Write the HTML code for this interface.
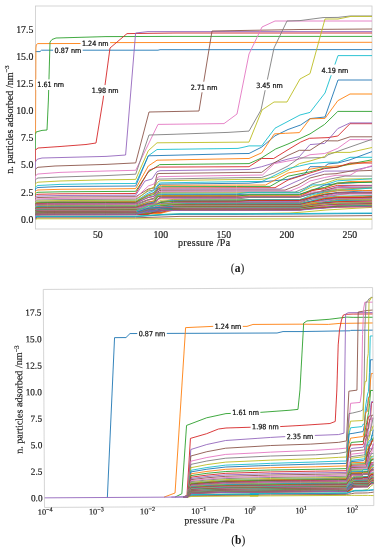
<!DOCTYPE html><html><head><meta charset="utf-8"><title>Adsorption isotherms</title><style>
html,body{margin:0;padding:0;background:#fff}svg{display:block}
.t{font-family:"Liberation Serif","DejaVu Serif",serif;font-size:9.8px;fill:#1a1a1a;stroke:#1a1a1a;stroke-width:0.18px}
.l{font-family:"DejaVu Sans Condensed","DejaVu Sans","Liberation Sans",sans-serif;font-stretch:condensed;font-size:7.15px;fill:#111;stroke:#111;stroke-width:0.22px}
.c{font-family:"Liberation Serif","DejaVu Serif",serif;font-size:11.5px;fill:#111}
polyline{fill:none;stroke-width:0.9;stroke-opacity:1.0;stroke-linejoin:miter;stroke-miterlimit:2}
</style></head><body>
<svg width="380" height="550" viewBox="0 0 380 550">
<rect width="380" height="550" fill="#fff"/>
<filter id="bl" x="-2%" y="-2%" width="104%" height="104%"><feGaussianBlur stdDeviation="0.38"/></filter>
<clipPath id="ca"><rect x="35.2" y="6.0" width="337.2" height="223.0"/></clipPath>
<g><rect x="35.4" y="6.0" width="336.6" height="223.0" fill="none" stroke="#cbcbcb" stroke-width="0.8"/></g>
<g filter="url(#bl)"><g><g clip-path="url(#ca)">
<polyline stroke="#bcbd22" points="35.5,216.8 35.5,216.8 36.6,216.7 36.0,216.6 38.0,216.3 135.7,216.3 161.0,214.6 180.0,213.9 237.0,213.8 290.0,213.0 304.0,212.0 326.0,210.0 350.0,208.6 372.0,207.4"/>
<polyline stroke="#8c564b" points="35.5,218.1 35.5,218.1 36.6,218.1 36.0,218.0 38.0,217.8 135.7,217.8 161.0,217.0 180.0,216.4 237.0,216.4 290.0,216.3 304.0,216.2 326.0,216.0 350.0,215.8 372.0,215.6"/>
<polyline stroke="#1f77b4" points="35.5,217.1 35.5,217.1 36.6,217.0 36.0,216.9 38.0,216.6 135.7,216.6 161.0,215.0 180.0,214.3 237.0,214.3 290.0,214.1 304.0,214.0 326.0,213.8 350.0,213.6 372.0,213.5"/>
<polyline stroke="#17becf" points="35.5,216.7 35.5,216.7 36.6,216.6 36.0,216.5 38.0,216.2 135.7,216.2 161.0,214.5 180.0,213.7 237.0,213.7 290.0,213.6 304.0,213.5 326.0,213.3 350.0,213.1 372.0,213.0"/>
<polyline stroke="#bcbd22" points="35.5,218.8 35.5,218.8 36.6,218.8 36.0,218.8 38.0,218.8 135.7,218.8 161.0,218.8 180.0,218.8 237.0,218.9 290.0,218.9 304.0,219.0 326.0,219.0 350.0,219.1 372.0,219.1"/>
<polyline stroke="#1f77b4" points="35.5,51.6 36.0,51.6 40.0,51.6 41.5,50.2 158.0,50.2 160.0,49.7 372.0,49.6"/>
<rect x="53.1" y="44.9" width="29.6" height="10.6" fill="#fff"/>
<polyline stroke="#ff7f0e" points="35.5,134.3 35.9,48.0 36.3,45.0 37.5,43.6 81.0,43.5 109.6,42.6 372.0,42.3"/>
<rect x="80.5" y="38.3" width="29.6" height="10.6" fill="#fff"/>
<polyline stroke="#2ca02c" points="35.5,149.0 35.5,134.3 36.0,132.0 42.0,130.4 47.0,130.0 48.4,100.0 49.5,60.0 50.0,42.0 52.0,39.5 56.0,38.0 106.0,36.6 176.0,36.4 372.0,36.4"/>
<rect x="35.9" y="79.4" width="29.6" height="10.6" fill="#fff"/>
<polyline stroke="#d62728" points="35.5,161.8 35.5,149.0 36.0,149.5 38.0,148.0 60.0,146.5 86.0,144.5 96.0,143.0 103.0,100.0 110.0,48.0 127.0,33.6 176.0,33.0 372.0,33.0"/>
<rect x="90.4" y="85.1" width="29.6" height="10.6" fill="#fff"/>
<polyline stroke="#9467bd" points="35.5,169.7 35.5,161.8 36.6,159.8 38.0,159.0 42.0,158.0 106.0,156.4 125.6,155.0 135.6,33.0 148.0,31.6 372.0,31.6"/>
<polyline stroke="#8c564b" points="35.5,176.1 35.5,169.7 36.6,168.0 38.0,167.3 55.0,166.0 106.0,164.4 135.7,162.9 149.0,112.0 199.0,111.0 212.0,31.0 300.0,29.5 372.0,29.0"/>
<rect x="189.3" y="81.7" width="29.6" height="10.6" fill="#fff"/>
<polyline stroke="#e377c2" points="35.5,179.9 35.5,176.1 36.6,174.6 38.0,174.0 60.0,172.4 106.0,171.0 135.7,170.3 158.0,124.4 224.0,123.6 237.0,114.0 249.0,54.0 262.0,27.0 275.0,21.0 372.0,21.0"/>
<polyline stroke="#7f7f7f" points="35.5,183.9 35.5,179.9 36.6,178.6 38.0,178.0 60.0,177.0 106.0,175.6 135.7,174.2 149.0,135.0 170.0,134.4 228.0,132.4 249.0,131.1 261.0,110.0 274.0,48.0 287.0,21.0 300.0,20.6 323.0,17.6 338.0,17.4 350.0,16.0 372.0,16.0"/>
<rect x="254.7" y="79.6" width="29.6" height="10.6" fill="#fff"/>
<polyline stroke="#bcbd22" points="35.5,187.1 35.5,183.9 36.6,182.7 38.0,182.2 60.0,181.0 106.0,179.8 135.7,179.4 148.3,150.7 157.0,142.8 249.0,142.1 262.0,110.0 274.0,102.0 287.0,102.0 300.0,79.0 310.0,73.6 325.0,19.0 338.0,19.0 351.0,16.4 372.0,16.4"/>
<polyline stroke="#17becf" points="35.5,189.0 35.5,187.1 36.6,186.0 38.0,185.5 60.0,184.4 106.0,183.6 135.7,183.5 148.3,155.8 157.0,149.5 238.0,148.4 244.0,147.1 249.0,145.9 261.7,145.9 275.0,128.2 300.0,115.0 310.0,112.4 325.0,93.0 338.0,55.6 372.0,55.6"/>
<rect x="320.1" y="64.6" width="29.6" height="10.6" fill="#fff"/>
<polyline stroke="#1f77b4" points="35.5,191.4 35.5,189.0 36.6,187.9 38.0,187.5 60.0,186.5 135.7,186.0 148.3,155.8 170.0,155.3 240.0,153.6 249.0,153.5 261.7,147.1 275.0,135.8 288.0,129.5 300.6,125.0 310.0,118.6 325.0,117.0 338.0,80.0 372.0,80.0"/>
<polyline stroke="#ff7f0e" points="35.5,193.6 35.5,191.4 36.6,190.4 38.0,190.0 60.0,189.3 135.7,188.6 148.3,166.0 157.0,160.2 246.0,158.5 249.0,158.5 261.7,152.8 274.3,133.9 285.7,133.3 299.4,132.6 310.0,118.8 325.0,118.4 337.8,100.7 350.0,94.0 372.0,94.0"/>
<polyline stroke="#2ca02c" points="35.5,195.5 35.5,193.6 36.6,192.7 38.0,192.3 60.0,191.8 135.7,191.3 148.3,172.0 159.7,164.6 249.0,163.6 261.7,157.9 275.6,149.0 288.0,144.0 310.0,133.9 324.6,124.4 337.8,111.4 372.0,111.4"/>
<polyline stroke="#d62728" points="35.5,197.1 35.5,195.5 36.6,194.6 38.0,194.3 60.0,193.8 135.7,193.5 149.0,170.3 157.0,167.1 249.0,166.7 261.7,158.5 273.7,158.5 288.0,149.7 300.6,142.1 309.5,138.3 328.0,137.6 337.8,136.0 350.0,123.7 372.0,123.7"/>
<polyline stroke="#9467bd" points="35.5,198.5 35.5,197.1 36.6,196.3 38.0,196.0 60.0,195.5 135.7,195.2 145.0,181.0 152.0,179.0 157.0,171.6 160.0,170.7 249.0,169.5 261.7,166.7 273.7,163.0 288.0,159.1 299.4,156.6 310.0,144.6 324.6,143.4 328.0,140.0 337.8,128.6 350.0,122.9 372.0,122.9"/>
<polyline stroke="#8c564b" points="35.5,199.8 35.5,198.5 36.6,197.8 38.0,197.5 60.0,197.0 135.7,196.7 148.3,189.0 154.0,188.0 157.0,174.0 159.0,173.5 249.0,172.4 261.7,172.4 273.7,163.0 288.0,155.4 299.4,150.3 310.0,150.3 324.6,140.8 337.8,140.9 350.0,136.8 372.0,136.8"/>
<polyline stroke="#e377c2" points="35.5,200.9 35.5,199.8 36.6,199.1 38.0,198.8 60.0,198.4 135.7,198.0 148.3,186.0 154.0,184.0 158.0,177.0 160.0,176.6 249.0,175.2 262.5,175.0 274.3,163.6 288.0,161.0 299.4,159.1 310.0,154.7 324.6,153.5 328.0,152.4 337.8,148.3 350.0,139.6 360.8,139.6 372.0,140.0"/>
<polyline stroke="#7f7f7f" points="35.5,201.9 35.5,200.9 36.6,200.3 38.0,200.0 60.0,199.6 135.7,199.2 148.3,191.0 154.0,190.0 157.0,179.5 159.0,179.1 249.0,177.5 261.7,177.5 274.0,173.0 288.0,166.0 299.4,157.9 310.0,157.9 324.6,157.5 328.0,154.8 350.0,147.0 372.0,139.3"/>
<polyline stroke="#bcbd22" points="35.5,202.8 35.5,201.9 36.6,201.2 38.0,201.0 60.0,200.6 135.7,200.3 148.3,190.0 154.0,187.0 159.0,181.0 161.0,180.7 249.0,179.3 262.0,179.3 275.0,177.0 288.0,170.5 299.4,163.6 310.0,161.0 324.6,156.6 328.0,153.2 337.8,152.4 350.0,152.4 372.0,147.5"/>
<polyline stroke="#17becf" points="35.5,203.6 35.5,202.8 36.6,202.2 38.0,202.0 60.0,201.5 135.7,201.2 148.3,193.0 154.0,190.5 159.0,183.3 161.0,182.9 249.0,181.5 262.0,181.5 266.7,179.3 288.0,168.6 299.4,166.0 310.0,163.6 328.0,162.2 337.8,162.2 350.0,157.3 372.0,157.3"/>
<polyline stroke="#1f77b4" points="35.5,203.6 35.5,203.6 36.6,203.0 38.0,202.8 60.0,202.4 135.7,202.0 148.3,194.5 154.0,192.5 159.0,184.6 161.0,184.2 249.0,183.2 263.0,181.9 288.0,179.3 304.4,174.3 310.0,166.7 324.6,166.7 328.0,163.9 337.8,163.0 350.0,159.8 372.0,151.6"/>
<polyline stroke="#ff7f0e" points="35.5,203.7 35.5,203.1 36.6,202.5 41.0,202.1 47.3,202.0 54.9,201.9 105.3,201.8 135.6,201.6 148.2,194.9 153.9,193.4 159.4,185.9 161.4,185.3 236.5,185.1 265.5,185.0 288.0,173.0 310.0,169.2 324.6,166.7 336.0,166.0 350.0,164.5 372.0,161.5"/>
<polyline stroke="#2ca02c" points="35.5,204.4 35.5,203.7 36.6,203.2 41.0,202.8 47.3,202.7 54.9,202.7 105.3,202.5 135.6,202.3 148.2,195.9 153.9,194.6 158.8,187.3 161.4,186.7 236.5,186.5 270.0,186.4 288.0,176.2 310.0,171.8 324.6,168.0 336.0,167.5 350.0,163.9 372.0,159.8"/>
<polyline stroke="#d62728" points="35.5,204.9 35.5,204.4 36.6,203.8 41.0,203.5 47.3,203.4 54.9,203.3 105.3,203.2 135.6,203.0 148.2,197.6 153.9,196.4 158.8,188.6 161.4,188.0 236.5,187.8 275.0,187.7 288.0,180.0 310.0,173.0 324.6,168.6 337.8,167.0 350.0,163.0 372.0,163.0"/>
<polyline stroke="#9467bd" points="35.5,205.5 35.5,204.9 36.6,204.4 41.0,204.1 47.3,204.0 54.9,203.9 105.3,203.8 135.6,203.6 148.2,197.2 153.9,196.2 158.2,189.8 161.4,189.2 236.5,189.0 280.0,189.0 295.0,182.0 310.0,175.6 324.6,171.1 350.0,171.0 372.0,166.3"/>
<polyline stroke="#8c564b" points="35.5,206.0 35.5,205.5 36.6,205.0 41.0,204.6 47.3,204.6 54.9,204.5 105.3,204.4 135.6,204.2 148.2,199.6 153.9,198.2 159.0,190.8 161.4,190.3 236.5,190.1 285.0,190.1 298.0,185.0 310.0,178.0 324.6,174.3 336.0,173.7 350.0,171.2 372.0,170.4"/>
<polyline stroke="#e377c2" points="35.5,206.4 35.5,206.0 36.6,205.5 41.0,205.2 47.3,205.1 54.9,205.0 105.3,204.9 135.6,204.8 148.2,200.5 153.9,199.0 159.5,191.9 161.4,191.3 236.5,191.1 290.0,191.1 300.0,187.0 310.0,181.0 324.6,177.5 336.0,175.3 350.0,175.3 358.3,170.4 372.0,165.5"/>
<polyline stroke="#7f7f7f" points="35.5,206.9 35.5,206.4 36.6,206.0 41.0,205.6 47.3,205.6 54.9,205.5 105.3,205.4 135.6,205.3 148.2,200.0 153.9,198.8 157.9,192.8 161.4,192.3 236.5,192.1 295.0,192.1 305.0,188.0 312.0,184.0 325.0,180.0 338.0,177.5 345.0,176.1 372.0,176.1"/>
<polyline stroke="#bcbd22" points="35.5,207.3 35.5,206.9 36.6,206.4 41.0,206.1 47.3,206.0 54.9,206.0 105.3,205.9 135.6,205.7 148.2,202.0 153.9,200.9 157.8,193.7 161.4,193.2 236.5,193.0 249.1,192.6 299.5,192.5 312.1,186.9 324.7,183.4 337.3,179.2 362.6,178.8 372.0,178.8"/>
<polyline stroke="#17becf" points="35.5,207.6 35.5,207.3 36.6,206.8 41.0,206.5 47.3,206.5 54.9,206.4 105.3,206.3 135.6,206.2 148.2,202.0 153.9,201.3 157.8,194.5 161.4,194.0 236.5,193.9 249.1,192.4 299.5,192.3 312.1,184.9 324.7,184.9 337.3,180.8 372.0,178.8"/>
<polyline stroke="#1f77b4" points="35.5,208.0 35.5,207.6 36.6,207.2 41.0,206.9 47.3,206.9 54.9,206.8 105.3,206.7 135.6,206.6 148.2,203.2 153.9,202.1 157.9,195.3 161.4,194.8 236.5,194.6 249.1,194.2 299.5,194.1 312.1,190.7 324.7,185.0 337.3,183.7 372.0,181.7"/>
<polyline stroke="#ff7f0e" points="35.5,208.3 35.5,208.0 36.6,207.6 41.0,207.3 47.3,207.2 54.9,207.2 105.3,207.1 135.6,207.0 148.2,202.0 153.9,201.1 157.8,196.0 161.4,195.5 236.5,195.4 249.1,195.4 299.5,195.3 312.1,190.5 324.7,187.7 337.3,183.4 349.9,181.5 372.0,181.3"/>
<polyline stroke="#2ca02c" points="35.5,208.6 35.5,208.3 36.6,207.9 41.0,207.7 47.3,207.6 54.9,207.6 105.3,207.5 135.6,207.3 148.2,203.9 153.9,203.1 157.8,196.7 161.4,196.2 236.5,196.1 249.1,194.8 299.5,194.7 312.1,189.7 324.7,187.4 337.3,182.9 372.0,182.3"/>
<polyline stroke="#d62728" points="35.5,208.9 35.5,208.6 36.6,208.3 41.0,208.0 47.3,207.9 54.9,207.9 105.3,207.8 135.6,207.7 148.2,204.1 153.9,203.3 159.5,197.3 161.4,196.9 236.5,196.8 249.1,196.8 299.5,196.7 312.1,190.4 324.7,188.7 337.3,185.4 372.0,185.4"/>
<polyline stroke="#9467bd" points="35.5,209.2 35.5,208.9 36.6,208.6 41.0,208.3 47.3,208.3 54.9,208.2 105.3,208.1 135.6,208.0 148.2,204.6 153.9,203.5 158.9,197.9 161.4,197.5 236.5,197.4 249.1,197.4 299.5,197.3 312.1,193.6 324.7,190.6 337.3,186.7 349.9,186.2 372.0,185.6"/>
<polyline stroke="#8c564b" points="35.5,209.5 35.5,209.2 36.6,208.9 41.0,208.6 47.3,208.6 54.9,208.5 105.3,208.4 135.6,208.3 148.2,205.6 153.9,204.9 158.9,198.5 161.4,198.1 236.5,198.0 249.1,196.7 299.5,196.6 312.1,193.8 324.7,190.1 337.3,187.7 372.0,187.1"/>
<polyline stroke="#e377c2" points="35.5,209.7 35.5,209.5 36.6,209.1 41.0,208.9 47.3,208.8 54.9,208.8 105.3,208.7 135.6,208.6 148.2,205.9 153.9,204.8 159.2,199.1 161.4,198.7 236.5,198.5 249.1,197.1 299.5,197.0 312.1,191.9 324.7,191.6 337.3,187.8 349.9,187.7 372.0,187.7"/>
<polyline stroke="#7f7f7f" points="35.5,210.0 35.5,209.7 36.6,209.4 41.0,209.2 47.3,209.1 54.9,209.1 105.3,209.0 135.6,208.9 148.2,208.2 160.8,201.9 173.4,199.4 186.0,199.2 236.5,199.1 249.1,197.5 299.5,197.5 312.1,193.1 324.7,191.4 337.3,189.3 372.0,187.6"/>
<polyline stroke="#bcbd22" points="35.5,210.2 35.5,210.0 36.6,209.7 41.0,209.4 47.3,209.4 54.9,209.3 105.3,209.3 135.6,209.1 148.2,207.5 160.8,200.3 173.4,199.8 186.0,199.7 236.5,199.6 249.1,199.6 299.5,199.5 312.1,196.2 324.7,192.0 337.3,189.8 372.0,188.0"/>
<polyline stroke="#17becf" points="35.5,210.4 35.5,210.2 36.6,209.9 41.0,209.7 47.3,209.6 54.9,209.6 105.3,209.5 135.6,209.4 148.2,207.9 160.8,201.8 173.4,200.7 186.0,200.2 236.5,200.1 249.1,200.1 299.5,200.0 312.1,194.7 324.7,192.1 337.3,190.7 372.0,188.0"/>
<polyline stroke="#1f77b4" points="35.5,210.6 35.5,210.4 36.6,210.1 41.0,209.9 47.3,209.8 54.9,209.8 105.3,209.8 135.6,209.6 148.2,208.5 160.8,202.5 173.4,200.7 186.0,200.6 236.5,200.5 249.1,200.0 299.5,200.0 312.1,197.5 324.7,194.3 337.3,192.5 372.0,190.4"/>
<polyline stroke="#ff7f0e" points="35.5,210.8 35.5,210.6 36.6,210.3 41.0,210.1 47.3,210.1 54.9,210.0 105.3,210.0 135.6,209.9 148.2,208.6 160.8,202.0 173.4,201.3 186.0,201.1 236.5,201.0 249.1,201.0 299.5,200.9 312.1,196.8 324.7,192.9 337.3,190.8 362.6,190.5 372.0,190.5"/>
<polyline stroke="#2ca02c" points="35.5,211.0 35.5,210.8 36.6,210.5 41.0,210.3 47.3,210.3 54.9,210.3 105.3,210.2 135.6,210.1 148.2,208.3 160.8,202.4 173.4,201.6 186.0,201.5 236.5,201.4 249.1,200.6 299.5,200.5 312.1,197.7 324.7,194.2 337.3,193.2 349.9,192.7 372.0,192.7"/>
<polyline stroke="#d62728" points="35.5,211.2 35.5,211.0 36.6,210.7 41.0,210.5 47.3,210.5 54.9,210.5 105.3,210.4 135.6,210.3 148.2,209.7 160.8,207.8 173.4,202.3 186.0,201.9 236.5,201.8 249.1,200.6 299.5,200.5 312.1,197.3 324.7,194.9 337.3,192.8 349.9,192.7 372.0,192.2"/>
<polyline stroke="#9467bd" points="35.5,211.4 35.5,211.2 36.6,210.9 41.0,210.7 47.3,210.7 54.9,210.7 105.3,210.6 135.6,210.5 148.2,204.5 160.8,203.6 173.4,202.4 186.0,202.3 236.5,202.2 249.1,201.6 299.5,201.5 312.1,198.0 324.7,196.1 337.3,193.2 372.0,192.0"/>
<polyline stroke="#8c564b" points="35.5,211.6 35.5,211.4 36.6,211.1 41.0,210.9 47.3,210.9 54.9,210.8 105.3,210.8 135.6,210.7 148.2,209.8 160.8,204.3 173.4,203.1 186.0,202.6 236.5,202.5 249.1,202.5 299.5,202.5 312.1,197.4 324.7,196.9 337.3,194.8 349.9,193.3 372.0,193.3"/>
<polyline stroke="#e377c2" points="35.5,211.7 35.5,211.6 36.6,211.3 41.0,211.1 47.3,211.0 54.9,211.0 105.3,211.0 135.6,210.9 148.2,209.6 160.8,208.9 173.4,203.2 186.0,203.0 236.5,202.9 249.1,202.9 299.5,202.8 312.1,198.9 324.7,197.4 337.3,194.4 349.9,194.1 372.0,194.1"/>
<polyline stroke="#7f7f7f" points="35.5,211.9 35.5,211.7 36.6,211.5 41.0,211.3 47.3,211.2 54.9,211.2 105.3,211.1 135.6,211.0 148.2,210.0 160.8,204.7 173.4,203.3 186.0,203.3 236.5,203.2 249.1,202.9 299.5,202.9 312.1,199.2 324.7,198.6 337.3,196.9 372.0,195.5"/>
<polyline stroke="#bcbd22" points="35.5,212.0 35.5,211.9 36.6,211.6 41.0,211.4 47.3,211.4 54.9,211.4 105.3,211.3 135.6,211.2 148.2,205.6 160.8,204.5 173.4,203.7 186.0,203.6 236.5,203.5 249.1,203.5 299.5,203.5 312.1,201.0 324.7,198.0 337.3,196.5 362.6,196.1 372.0,196.1"/>
<polyline stroke="#17becf" points="35.5,212.2 35.5,212.0 36.6,211.8 41.0,211.6 47.3,211.5 54.9,211.5 105.3,211.5 135.6,211.4 148.2,206.2 160.8,205.5 173.4,204.2 186.0,203.9 236.5,203.8 249.1,203.8 299.5,203.8 312.1,200.8 324.7,197.8 337.3,196.1 372.0,196.0"/>
<polyline stroke="#1f77b4" points="35.5,212.3 35.5,212.2 36.6,211.9 41.0,211.7 47.3,211.7 54.9,211.7 105.3,211.6 135.6,211.5 148.2,210.6 160.8,209.6 173.4,204.7 186.0,204.2 236.5,204.1 249.1,204.1 299.5,204.1 312.1,201.0 324.7,199.6 337.3,197.6 349.9,197.4 372.0,197.4"/>
<polyline stroke="#ff7f0e" points="35.5,212.4 35.5,212.3 36.6,212.1 41.0,211.9 47.3,211.8 54.9,211.8 105.3,211.8 135.6,211.7 148.2,211.2 160.8,205.9 173.4,204.7 186.0,204.5 236.5,204.4 249.1,204.4 299.5,204.4 312.1,201.9 324.7,198.3 337.3,196.8 349.9,196.8 372.0,196.8"/>
<polyline stroke="#2ca02c" points="35.5,212.6 35.5,212.4 36.6,212.2 41.0,212.0 47.3,212.0 54.9,212.0 105.3,211.9 135.6,211.8 148.2,211.3 160.8,206.0 173.4,204.9 186.0,204.8 236.5,204.7 249.1,204.7 299.5,204.7 312.1,202.1 324.7,200.2 337.3,198.5 349.9,198.2 372.0,198.0"/>
<polyline stroke="#d62728" points="35.5,212.7 35.5,212.6 36.6,212.3 41.0,212.2 47.3,212.1 54.9,212.1 105.3,212.0 135.6,212.0 148.2,211.0 160.8,210.6 173.4,205.4 186.0,205.1 236.5,205.0 249.1,205.0 299.5,204.9 312.1,201.9 324.7,198.7 337.3,197.6 362.6,197.5 372.0,196.7"/>
<polyline stroke="#9467bd" points="35.5,212.8 35.5,212.7 36.6,212.5 41.0,212.3 47.3,212.2 54.9,212.2 105.3,212.2 135.6,212.1 148.2,211.2 160.8,209.8 173.4,205.4 186.0,205.3 236.5,205.2 249.1,205.2 299.5,205.2 312.1,202.8 324.7,200.2 337.3,198.9 362.6,198.5 372.0,198.5"/>
<polyline stroke="#8c564b" points="35.5,212.9 35.5,212.8 36.6,212.6 41.0,212.4 47.3,212.4 54.9,212.4 105.3,212.3 135.6,212.2 148.2,211.8 160.8,210.9 173.4,205.8 186.0,205.6 236.5,205.5 249.1,205.5 299.5,205.4 312.1,203.1 324.7,201.6 337.3,199.4 349.9,198.8 372.0,198.8"/>
<polyline stroke="#e377c2" points="35.5,213.0 35.5,212.9 36.6,212.7 41.0,212.5 47.3,212.5 54.9,212.5 105.3,212.4 135.6,212.3 148.2,207.6 160.8,206.7 173.4,205.8 186.0,205.8 236.5,205.7 249.1,205.7 299.5,205.7 312.1,202.7 324.7,201.2 337.3,199.0 362.6,198.7 372.0,198.7"/>
<polyline stroke="#7f7f7f" points="35.5,213.1 35.5,213.0 36.6,212.8 41.0,212.6 47.3,212.6 54.9,212.6 105.3,212.5 135.6,212.5 148.2,208.2 160.8,207.0 173.4,206.3 186.0,206.0 236.5,206.0 249.1,206.0 299.5,205.9 312.1,203.4 324.7,202.0 337.3,200.0 349.9,199.3 372.0,199.3"/>
<polyline stroke="#bcbd22" points="35.5,213.2 35.5,213.1 36.6,212.9 41.0,212.8 47.3,212.7 54.9,212.7 105.3,212.7 135.6,212.6 148.2,211.4 160.8,210.7 173.4,206.3 186.0,206.3 236.5,206.2 249.1,206.2 299.5,206.1 312.1,202.8 324.7,202.6 337.3,200.2 372.0,199.9"/>
<polyline stroke="#17becf" points="35.5,213.3 35.5,213.2 36.6,213.0 41.0,212.9 47.3,212.8 54.9,212.8 105.3,212.8 135.6,212.7 148.2,208.6 160.8,207.9 173.4,206.6 186.0,206.5 236.5,206.4 249.1,206.4 299.5,206.3 312.1,203.9 324.7,202.2 337.3,200.6 362.6,200.5 372.0,200.5"/>
<polyline stroke="#1f77b4" points="35.5,213.4 35.5,213.3 36.6,213.1 41.0,213.0 47.3,212.9 54.9,212.9 105.3,212.9 135.6,212.8 148.2,208.3 160.8,207.5 173.4,206.8 186.0,206.7 236.5,206.6 249.1,206.6 299.5,206.6 312.1,204.8 324.7,203.2 337.3,201.2 372.0,200.8"/>
<polyline stroke="#ff7f0e" points="35.5,213.5 35.5,213.4 36.6,213.2 41.0,213.1 47.3,213.0 54.9,213.0 105.3,213.0 135.6,212.9 148.2,212.1 160.8,211.1 173.4,207.1 186.0,206.9 236.5,206.8 249.1,206.8 299.5,206.8 312.1,203.6 324.7,203.1 337.3,201.6 372.0,200.8"/>
<polyline stroke="#2ca02c" points="35.5,213.6 35.5,213.5 36.6,213.3 41.0,213.2 47.3,213.1 54.9,213.1 105.3,213.1 135.6,213.0 148.2,211.8 160.8,211.4 173.4,207.3 186.0,207.1 236.5,207.0 249.1,207.0 299.5,207.0 312.1,205.4 324.7,202.9 337.3,202.4 372.0,201.8"/>
<polyline stroke="#d62728" points="35.5,213.7 35.5,213.6 36.6,213.4 41.0,213.3 47.3,213.2 54.9,213.2 105.3,213.2 135.6,213.1 148.2,212.0 160.8,208.2 173.4,207.4 186.0,207.3 236.5,207.2 249.1,207.2 299.5,207.2 312.1,205.0 324.7,202.9 337.3,201.9 349.9,201.5 372.0,201.5"/>
<polyline stroke="#9467bd" points="35.5,213.8 35.5,213.7 36.6,213.5 41.0,213.4 47.3,213.3 54.9,213.3 105.3,213.3 135.6,213.2 148.2,212.3 160.8,211.7 173.4,207.5 186.0,207.5 236.5,207.4 249.1,207.4 299.5,207.3 312.1,205.1 324.7,203.7 337.3,203.0 372.0,202.1"/>
<polyline stroke="#8c564b" points="35.5,213.9 35.5,213.8 36.6,213.6 41.0,213.5 47.3,213.4 54.9,213.4 105.3,213.4 135.6,213.3 148.2,209.5 160.8,208.9 173.4,207.9 186.0,207.6 236.5,207.6 249.1,207.6 299.5,207.5 312.1,205.3 324.7,204.9 337.3,203.7 349.9,202.8 372.0,202.8"/>
<polyline stroke="#e377c2" points="35.5,214.0 35.5,213.9 36.6,213.7 41.0,213.5 47.3,213.5 54.9,213.5 105.3,213.5 135.6,213.4 148.2,212.6 160.8,208.3 173.4,208.1 186.0,207.8 236.5,207.7 249.1,207.7 299.5,207.7 312.1,206.0 324.7,204.2 337.3,202.7 349.9,202.4 372.0,201.9"/>
<polyline stroke="#7f7f7f" points="35.5,214.0 35.5,214.0 36.6,213.8 41.0,213.6 47.3,213.6 54.9,213.6 105.3,213.5 135.6,213.5 148.2,209.1 160.8,208.6 173.4,208.3 186.0,208.0 236.5,207.9 249.1,207.9 299.5,207.9 312.1,205.1 324.7,203.6 337.3,203.1 372.0,202.6"/>
<polyline stroke="#bcbd22" points="35.5,214.1 35.5,214.0 36.6,213.9 41.0,213.7 47.3,213.7 54.9,213.7 105.3,213.6 135.6,213.6 148.2,212.8 160.8,212.4 173.4,208.3 186.0,208.1 236.5,208.1 249.1,208.1 299.5,208.0 312.1,205.5 324.7,204.8 337.3,203.1 362.6,203.0 372.0,203.0"/>
<polyline stroke="#17becf" points="35.5,214.2 35.5,214.1 36.6,213.9 41.0,213.8 47.3,213.8 54.9,213.8 105.3,213.7 135.6,213.6 148.2,212.8 160.8,212.3 173.4,208.3 186.0,208.3 236.5,208.2 249.1,208.2 299.5,208.2 312.1,206.4 324.7,205.8 337.3,204.3 362.6,203.7 372.0,203.7"/>
<polyline stroke="#1f77b4" points="35.5,214.3 35.5,214.2 36.6,214.0 41.0,213.9 47.3,213.8 54.9,213.8 105.3,213.8 135.6,213.7 148.2,212.6 160.8,209.0 173.4,208.6 186.0,208.5 236.5,208.4 249.1,208.4 299.5,208.3 312.1,207.1 324.7,205.5 337.3,204.6 372.0,204.1"/>
<polyline stroke="#ff7f0e" points="35.5,214.3 35.5,214.3 36.6,214.1 41.0,214.0 47.3,213.9 54.9,213.9 105.3,213.9 135.6,213.8 148.2,212.8 160.8,212.6 173.4,208.8 186.0,208.6 236.5,208.5 249.1,208.5 299.5,208.5 312.1,206.9 324.7,206.2 337.3,205.0 349.9,204.3 372.0,204.3"/>
<polyline stroke="#2ca02c" points="35.5,214.4 35.5,214.3 36.6,214.2 41.0,214.0 47.3,214.0 54.9,214.0 105.3,213.9 135.6,213.9 148.2,213.4 160.8,209.7 173.4,208.9 186.0,208.7 236.5,208.7 249.1,208.7 299.5,208.6 312.1,206.4 324.7,206.2 337.3,204.8 372.0,204.3"/>
<polyline stroke="#d62728" points="35.5,214.5 35.5,214.4 36.6,214.2 41.0,214.1 47.3,214.1 54.9,214.1 105.3,214.0 135.6,214.0 148.2,213.2 160.8,212.8 173.4,209.0 186.0,208.9 236.5,208.8 249.1,208.8 299.5,208.8 312.1,206.4 324.7,205.6 337.3,204.5 349.9,204.2 372.0,203.8"/>
<polyline stroke="#9467bd" points="35.5,214.5 35.5,214.5 36.6,214.3 41.0,214.2 47.3,214.1 54.9,214.1 105.3,214.1 135.6,214.0 148.2,213.3 160.8,209.7 173.4,209.2 186.0,209.0 236.5,209.0 249.1,209.0 299.5,208.9 312.1,207.5 324.7,205.8 337.3,205.4 372.0,204.3"/>
<polyline stroke="#8c564b" points="35.5,214.6 35.5,214.5 36.6,214.4 41.0,214.2 47.3,214.2 54.9,214.2 105.3,214.2 135.6,214.1 148.2,213.4 160.8,209.5 173.4,209.3 186.0,209.2 236.5,209.1 249.1,209.1 299.5,209.1 312.1,207.3 324.7,206.1 337.3,205.7 372.0,205.1"/>
<polyline stroke="#e377c2" points="35.5,214.7 35.5,214.6 36.6,214.4 41.0,214.3 47.3,214.3 54.9,214.3 105.3,214.2 135.6,214.2 148.2,213.3 160.8,210.1 173.4,209.5 186.0,209.3 236.5,209.2 249.1,209.2 299.5,209.2 312.1,207.5 324.7,205.8 337.3,205.2 362.6,205.1 372.0,205.1"/>
<polyline stroke="#7f7f7f" points="35.5,214.7 35.5,214.7 36.6,214.5 41.0,214.4 47.3,214.3 54.9,214.3 105.3,214.3 135.6,214.2 148.2,210.8 160.8,210.5 173.4,209.5 186.0,209.4 236.5,209.4 249.1,209.4 299.5,209.3 312.1,208.0 324.7,207.3 337.3,206.2 362.6,205.8 372.0,205.8"/>
<polyline stroke="#bcbd22" points="35.5,214.8 35.5,214.7 36.6,214.6 41.0,214.4 47.3,214.4 54.9,214.4 105.3,214.4 135.6,214.3 148.2,213.9 160.8,210.3 173.4,209.8 186.0,209.6 236.5,209.5 249.1,209.5 299.5,209.5 312.1,207.5 324.7,207.0 337.3,206.1 349.9,205.4 372.0,204.9"/>
<polyline stroke="#17becf" points="35.5,214.8 35.5,214.8 36.6,214.6 41.0,214.5 47.3,214.5 54.9,214.5 105.3,214.4 135.6,214.4 148.2,214.0 160.8,210.4 173.4,209.8 186.0,209.7 236.5,209.6 249.1,209.6 299.5,209.6 312.1,207.7 324.7,207.4 337.3,206.4 372.0,205.8"/>
<polyline stroke="#1f77b4" points="35.5,214.9 35.5,214.8 36.6,214.7 41.0,214.6 47.3,214.5 54.9,214.5 105.3,214.5 135.6,214.4 148.2,211.2 160.8,210.6 173.4,209.8 186.0,209.8 236.5,209.7 249.1,209.7 299.5,209.7 312.1,208.7 324.7,207.7 337.3,206.3 362.6,206.1 372.0,206.1"/>
<polyline stroke="#ff7f0e" points="35.5,214.9 35.5,214.9 36.6,214.7 41.0,214.6 47.3,214.6 54.9,214.6 105.3,214.5 135.6,214.5 148.2,213.8 160.8,213.3 173.4,210.1 186.0,209.9 236.5,209.9 249.1,209.9 299.5,209.8 312.1,208.1 324.7,207.3 337.3,206.9 362.6,206.6 372.0,206.1"/>
<polyline stroke="#2ca02c" points="35.5,215.0 35.5,214.9 36.6,214.8 41.0,214.7 47.3,214.7 54.9,214.6 105.3,214.6 135.6,214.5 148.2,213.7 160.8,210.4 173.4,210.1 186.0,210.0 236.5,210.0 249.1,210.0 299.5,209.9 312.1,208.3 324.7,207.7 337.3,206.4 372.0,206.3"/>
<polyline stroke="#d62728" points="35.5,215.1 35.5,215.0 36.6,214.8 41.0,214.7 47.3,214.7 54.9,214.7 105.3,214.7 135.6,214.6 148.2,214.3 160.8,210.5 173.4,210.2 186.0,210.1 236.5,210.1 249.1,210.1 299.5,210.0 312.1,208.7 324.7,207.6 337.3,207.1 372.0,206.6"/>
<polyline stroke="#9467bd" points="35.5,219.5 35.5,215.1 36.6,214.9 41.0,214.8 47.3,214.8 54.9,214.8 105.3,214.7 135.6,214.7 148.2,211.2 160.8,210.9 173.4,210.5 186.0,210.2 236.5,210.2 249.1,210.2 299.5,210.2 312.1,209.0 324.7,208.2 337.3,207.2 349.9,206.7 372.0,206.7"/>
</g></g></g>
<g>
<text class="l" x="67.9" y="52.8" text-anchor="middle">0.87 nm</text>
<text class="l" x="95.3" y="46.2" text-anchor="middle">1.24 nm</text>
<text class="l" x="50.7" y="87.3" text-anchor="middle">1.61 nm</text>
<text class="l" x="105.2" y="93.0" text-anchor="middle">1.98 nm</text>
<text class="l" x="204.1" y="89.6" text-anchor="middle">2.71 nm</text>
<text class="l" x="269.5" y="87.5" text-anchor="middle">3.45 nm</text>
<text class="l" x="334.9" y="72.5" text-anchor="middle">4.19 nm</text>
</g>
<text class="t" x="33.3" y="222.7" text-anchor="end">0.0</text>
<text class="t" x="33.3" y="195.5" text-anchor="end">2.5</text>
<text class="t" x="33.3" y="168.3" text-anchor="end">5.0</text>
<text class="t" x="33.3" y="141.2" text-anchor="end">7.5</text>
<text class="t" x="33.3" y="114.0" text-anchor="end">10.0</text>
<text class="t" x="33.3" y="86.8" text-anchor="end">12.5</text>
<text class="t" x="33.3" y="59.7" text-anchor="end">15.0</text>
<text class="t" x="33.3" y="32.5" text-anchor="end">17.5</text>
<text class="t" x="97.8" y="238.2" text-anchor="middle">50</text>
<text class="t" x="160.8" y="238.2" text-anchor="middle">100</text>
<text class="t" x="223.8" y="238.2" text-anchor="middle">150</text>
<text class="t" x="286.9" y="238.2" text-anchor="middle">200</text>
<text class="t" x="349.9" y="238.2" text-anchor="middle">250</text>
<text class="t" x="204.2" y="245.9" text-anchor="middle" style="font-size:10px;letter-spacing:0.32px">pressure /Pa</text>
<text class="t" transform="translate(12.6,119.6) rotate(-90)" text-anchor="middle" style="font-size:10.1px">n. particles adsorbed /nm<tspan dy="-3.2" font-size="6.6px">−3</tspan></text>
<text class="c" x="237.5" y="272.2" text-anchor="middle">(<tspan font-weight="bold">a</tspan>)</text>
<clipPath id="cb"><rect x="43.7" y="288.5" width="329.9" height="218.0"/></clipPath>
<g transform="rotate(-0.33 208.55 397.5)"><rect x="43.9" y="288.5" width="329.3" height="218.0" fill="none" stroke="#cbcbcb" stroke-width="0.8"/></g>
<g filter="url(#bl)"><g transform="rotate(-0.33 208.55 397.5)"><g clip-path="url(#cb)">
<polyline stroke="#bcbd22" points="187.2,496.8 190.5,494.7 206.5,494.5 225.4,494.3 257.7,494.2 249.4,494.1 270.1,493.8 346.2,493.8 351.1,492.1 354.3,491.4 361.6,491.3 366.8,490.6 368.0,489.6 369.7,487.6 371.5,486.3 373.0,485.1"/>
<polyline stroke="#8c564b" points="187.2,496.9 190.5,495.8 206.5,495.6 225.4,495.5 257.7,495.5 249.4,495.4 270.1,495.2 346.2,495.2 351.1,494.5 354.3,493.9 361.6,493.9 366.8,493.8 368.0,493.7 369.7,493.5 371.5,493.3 373.0,493.1"/>
<polyline stroke="#1f77b4" points="187.2,496.8 190.5,494.9 206.5,494.7 225.4,494.5 257.7,494.5 249.4,494.4 270.1,494.1 346.2,494.1 351.1,492.5 354.3,491.8 361.6,491.8 366.8,491.6 368.0,491.5 369.7,491.3 371.5,491.1 373.0,491.0"/>
<polyline stroke="#17becf" points="187.2,496.8 190.5,494.6 206.5,494.4 225.4,494.2 257.7,494.1 249.4,494.0 270.1,493.7 346.2,493.7 351.1,492.0 354.3,491.2 361.6,491.2 366.8,491.1 368.0,491.0 369.7,490.8 371.5,490.7 373.0,490.6"/>
<polyline stroke="#bcbd22" points="187.2,496.9 190.5,496.4 206.5,496.3 225.4,496.3 257.7,496.2 249.4,496.2 270.1,496.2 346.2,496.2 351.1,496.2 354.3,496.2 361.6,496.3 366.8,496.3 368.0,496.4 369.7,496.4 371.5,496.5 373.0,496.5"/>
<polyline stroke="#1f77b4" points="106.8,496.9 114.9,337.1 126.3,337.1 130.4,333.1 277.4,333.4 283.4,332.0 300.4,332.1 350.6,331.6 351.0,331.2 373.0,331.1"/>
<rect x="137.6" y="328.0" width="29.6" height="10.6" fill="#fff"/>
<polyline stroke="#ff7f0e" points="163.4,496.9 174.5,492.8 186.0,327.5 213.4,326.4 247.4,326.6 253.4,324.7 300.4,324.7 328.8,325.1 339.5,324.2 373.0,323.9"/>
<rect x="213.6" y="321.2" width="29.6" height="10.6" fill="#fff"/>
<polyline stroke="#2ca02c" points="174.4,496.9 181.3,493.6 186.4,425.3 206.5,417.8 225.9,413.7 259.9,412.7 289.9,410.7 297.9,409.9 300.0,390.5 304.1,323.6 307.4,321.5 329.6,320.0 347.3,317.9 353.6,318.2 373.0,318.2"/>
<rect x="230.7" y="407.3" width="29.6" height="10.6" fill="#fff"/>
<polyline stroke="#d62728" points="182.4,496.9 186.4,495.4 190.2,438.3 206.4,433.7 218.2,429.1 225.8,428.1 249.8,427.5 279.8,427.0 301.8,425.9 329.8,424.2 335.1,422.2 336.9,390.7 338.5,345.7 339.9,330.8 341.9,320.8 343.8,315.8 346.5,315.1 353.6,314.9 373.0,314.9"/>
<rect x="250.4" y="421.6" width="29.6" height="10.6" fill="#fff"/>
<polyline stroke="#9467bd" points="170.7,496.9 183.0,496.7 187.2,495.1 190.5,449.4 206.5,444.5 225.4,440.6 257.7,438.6 270.1,437.8 287.7,436.9 338.4,435.3 343.8,433.9 346.1,314.9 348.7,313.5 373.0,313.5"/>
<rect x="285.0" y="431.7" width="29.6" height="10.6" fill="#fff"/>
<polyline stroke="#8c564b" points="183.0,496.7 187.2,495.3 190.5,455.9 206.5,451.7 225.4,448.3 257.7,446.6 270.1,445.9 310.5,444.7 338.4,443.1 346.2,441.7 348.9,392.0 357.0,391.0 358.7,312.9 367.6,311.4 373.0,311.0"/>
<polyline stroke="#e377c2" points="183.0,496.7 187.2,495.5 190.5,461.1 206.5,457.5 225.4,454.5 257.7,453.1 270.1,452.5 315.4,450.9 338.4,449.6 346.2,448.9 350.6,404.1 360.1,403.3 361.6,393.9 362.9,335.4 364.2,309.0 365.4,303.1 373.0,303.1"/>
<polyline stroke="#7f7f7f" points="183.0,496.7 187.2,495.7 190.5,464.3 206.5,461.0 225.4,458.3 257.7,456.9 270.1,456.4 315.4,455.4 338.4,454.1 346.2,452.7 348.9,414.4 352.7,413.8 360.6,411.9 362.9,410.6 364.1,390.0 365.3,329.5 366.5,303.1 367.6,302.8 369.5,299.8 370.6,299.6 371.5,298.3 373.0,298.3"/>
<polyline stroke="#bcbd22" points="183.0,496.8 187.2,495.8 190.5,467.6 206.5,464.6 225.4,462.2 257.7,461.0 270.1,460.5 315.4,459.3 338.4,458.1 346.2,457.8 348.8,429.7 350.4,422.0 362.9,421.4 364.2,390.0 365.3,382.2 366.5,382.2 367.6,359.8 368.5,354.5 369.6,301.2 370.6,301.2 371.5,298.7 373.0,298.7"/>
<polyline stroke="#17becf" points="183.0,496.8 187.2,495.9 190.5,470.2 206.5,467.5 225.4,465.2 257.7,464.2 270.1,463.7 315.4,462.6 338.4,461.9 346.2,461.8 348.8,434.7 350.4,428.6 361.7,427.5 362.4,426.2 362.9,425.1 364.2,425.1 365.4,407.8 367.6,394.9 368.5,392.4 369.6,373.4 370.6,336.9 373.0,336.9"/>
<polyline stroke="#1f77b4" points="183.0,496.8 187.2,495.9 190.5,471.8 206.5,469.2 225.4,467.1 257.7,466.1 270.1,465.7 315.4,464.7 346.2,464.2 348.8,434.7 352.7,434.2 361.9,432.6 362.9,432.5 364.2,426.2 365.4,415.2 366.6,409.1 367.7,404.7 368.5,398.4 369.6,396.9 370.6,360.7 373.0,360.7"/>
<polyline stroke="#ff7f0e" points="183.0,496.8 187.2,496.0 190.5,473.7 206.5,471.4 225.4,469.4 257.7,468.5 270.1,468.1 315.4,467.4 346.2,466.7 348.8,444.7 350.4,439.0 362.6,437.4 362.9,437.4 364.2,431.8 365.4,413.3 366.4,412.8 367.6,412.1 368.5,398.6 369.6,398.2 370.6,380.9 371.5,374.4 373.0,374.4"/>
<polyline stroke="#2ca02c" points="183.0,496.8 187.2,496.1 190.5,475.5 206.5,473.3 225.4,471.6 257.7,470.7 270.1,470.4 315.4,469.9 346.2,469.4 348.8,450.5 350.9,443.3 362.9,442.3 364.2,436.8 365.5,428.1 366.6,423.2 368.5,413.3 369.6,404.1 370.6,391.4 373.0,391.4"/>
<polyline stroke="#d62728" points="183.0,496.8 187.2,496.1 190.5,477.1 206.5,475.1 225.4,473.4 257.7,472.6 270.1,472.3 315.4,471.8 346.2,471.5 348.9,448.9 350.4,445.8 362.9,445.4 364.2,437.4 365.3,437.4 366.6,428.8 367.7,421.4 368.4,417.6 369.9,417.0 370.6,415.4 371.5,403.4 373.0,403.4"/>
<polyline stroke="#9467bd" points="183.0,496.8 187.2,496.2 190.5,478.4 206.5,476.5 225.4,475.0 257.7,474.3 270.1,474.0 315.4,473.5 346.2,473.2 348.1,459.3 349.5,457.4 350.4,450.1 351.0,449.3 362.9,448.1 364.2,445.4 365.3,441.8 366.6,437.9 367.6,435.5 368.5,423.8 369.6,422.6 369.9,419.3 370.6,408.2 371.5,402.6 373.0,402.6"/>
<polyline stroke="#8c564b" points="183.0,496.8 187.2,496.2 190.5,479.6 206.5,477.8 225.4,476.4 257.7,475.7 270.1,475.4 315.4,474.9 346.2,474.6 348.8,467.1 349.9,466.2 350.4,452.5 350.8,452.0 362.9,450.9 364.2,450.9 365.3,441.8 366.6,434.3 367.6,429.4 368.5,429.4 369.6,420.1 370.6,420.2 371.5,416.2 373.0,416.2"/>
<polyline stroke="#e377c2" points="183.0,496.8 187.2,496.3 190.5,480.6 206.5,479.0 225.4,477.6 257.7,477.0 270.1,476.7 315.4,476.3 346.2,475.9 348.8,464.2 349.9,462.2 350.6,455.4 351.0,455.0 362.9,453.7 364.3,453.5 365.4,442.3 366.6,439.8 367.6,437.9 368.5,433.6 369.6,432.5 369.9,431.4 370.6,427.4 371.5,418.9 372.2,418.9 373.0,419.3"/>
<polyline stroke="#7f7f7f" points="183.0,496.8 187.2,496.3 190.5,481.6 206.5,480.0 225.4,478.7 257.7,478.1 270.1,477.9 315.4,477.5 346.2,477.1 348.8,469.1 349.9,468.1 350.4,457.9 350.8,457.5 362.9,455.9 364.2,455.9 365.3,451.5 366.6,444.7 367.6,436.8 368.5,436.8 369.6,436.4 369.9,433.7 371.5,426.1 373.0,418.6"/>
<polyline stroke="#bcbd22" points="183.0,496.8 187.2,496.3 190.5,482.4 206.5,480.9 225.4,479.7 257.7,479.1 270.1,478.8 315.4,478.5 346.2,478.2 348.8,468.1 349.9,465.2 350.8,459.3 351.1,459.0 362.9,457.7 364.2,457.7 365.4,455.4 366.6,449.1 367.6,442.3 368.5,439.8 369.6,435.5 369.9,432.2 370.6,431.4 371.5,431.4 373.0,426.6"/>
<polyline stroke="#17becf" points="183.0,496.8 187.2,496.4 190.5,483.1 206.5,481.7 225.4,480.6 257.7,480.0 270.1,479.8 315.4,479.3 346.2,479.0 348.8,471.0 349.9,468.6 350.8,461.6 351.1,461.2 362.9,459.8 364.2,459.8 364.7,457.7 366.6,447.2 367.6,444.7 368.5,442.3 369.9,441.0 370.6,441.0 371.5,436.2 373.0,436.2"/>
<polyline stroke="#1f77b4" points="183.0,496.8 187.2,496.4 190.5,483.8 206.5,482.4 225.4,481.4 257.7,480.8 270.1,480.6 315.4,480.2 346.2,479.8 348.8,472.5 349.9,470.5 350.8,462.8 351.1,462.4 362.9,461.5 364.3,460.2 366.6,457.7 368.0,452.8 368.5,445.4 369.6,445.4 369.9,442.6 370.6,441.8 371.5,438.6 373.0,430.6"/>
<polyline stroke="#ff7f0e" points="183.0,496.8 187.2,496.4 190.5,483.4 206.5,482.0 225.4,480.9 257.7,480.3 284.5,479.9 299.9,479.8 310.4,479.8 338.2,479.6 346.1,479.4 348.8,472.9 349.8,471.5 350.9,464.1 351.2,463.5 361.6,463.3 364.5,463.2 366.6,451.5 368.5,447.8 369.6,445.4 370.5,444.7 371.5,443.2 373.0,440.3"/>
<polyline stroke="#2ca02c" points="183.0,496.8 187.2,496.4 190.5,483.9 206.5,482.6 225.4,481.5 257.7,481.0 284.5,480.6 299.9,480.5 310.4,480.5 338.2,480.4 346.1,480.2 348.8,473.9 349.8,472.6 350.7,465.5 351.2,464.9 361.6,464.7 365.0,464.6 366.6,454.6 368.5,450.3 369.6,446.6 370.5,446.1 371.5,442.6 373.0,438.6"/>
<polyline stroke="#d62728" points="183.0,496.8 187.2,496.4 190.5,484.4 206.5,483.2 225.4,482.1 257.7,481.6 284.5,481.2 299.9,481.2 310.4,481.1 338.2,481.0 346.1,480.8 348.8,475.6 349.8,474.3 350.8,466.7 351.2,466.1 361.6,465.9 365.4,465.9 366.6,458.3 368.5,451.5 369.6,447.2 370.6,445.7 371.5,441.8 373.0,441.8"/>
<polyline stroke="#9467bd" points="183.0,496.8 187.2,496.4 190.5,484.9 206.5,483.7 225.4,482.7 257.7,482.2 284.5,481.8 299.9,481.8 310.4,481.7 338.2,481.6 346.1,481.4 348.8,475.1 349.8,474.2 350.6,467.9 351.2,467.3 361.6,467.1 365.9,467.1 367.2,460.3 368.5,454.1 369.6,449.7 371.5,449.6 373.0,445.0"/>
<polyline stroke="#8c564b" points="183.0,496.8 187.2,496.5 190.5,485.3 206.5,484.2 225.4,483.2 257.7,482.7 284.5,482.4 299.9,482.3 310.4,482.3 338.2,482.2 346.1,482.0 348.8,477.5 349.8,476.1 350.8,468.9 351.2,468.4 361.6,468.2 366.3,468.2 367.5,463.2 368.5,456.4 369.6,452.8 370.5,452.2 371.5,449.8 373.0,449.0"/>
<polyline stroke="#e377c2" points="183.0,496.8 187.2,496.5 190.5,485.7 206.5,484.6 225.4,483.7 257.7,483.2 284.5,482.9 299.9,482.8 310.4,482.8 338.2,482.7 346.1,482.5 348.8,478.4 349.8,476.9 350.9,469.9 351.2,469.4 361.6,469.2 366.8,469.2 367.6,465.2 368.5,459.3 369.6,455.9 370.5,453.8 371.5,453.8 372.1,449.0 373.0,444.2"/>
<polyline stroke="#7f7f7f" points="183.0,496.8 187.2,496.5 190.5,486.1 206.5,485.0 225.4,484.1 257.7,483.7 284.5,483.4 299.9,483.3 310.4,483.3 338.2,483.2 346.1,483.0 348.8,477.8 349.8,476.7 350.6,470.8 351.2,470.3 361.6,470.2 367.2,470.2 368.1,466.2 368.6,462.2 369.6,458.3 370.6,455.9 371.1,454.5 373.0,454.5"/>
<polyline stroke="#bcbd22" points="183.0,496.8 187.2,496.5 190.5,486.5 206.5,485.4 225.4,484.6 257.7,484.1 284.5,483.8 299.9,483.8 310.4,483.7 338.2,483.6 346.1,483.5 348.8,479.8 349.8,478.7 350.6,471.7 351.2,471.2 361.6,471.0 362.9,470.6 367.6,470.5 368.6,465.1 369.6,461.7 370.6,457.6 372.3,457.2 373.0,457.2"/>
<polyline stroke="#17becf" points="183.0,496.8 187.2,496.5 190.5,486.8 206.5,485.8 225.4,484.9 257.7,484.5 284.5,484.2 299.9,484.2 310.4,484.1 338.2,484.0 346.1,483.9 348.8,479.9 349.8,479.2 350.6,472.5 351.2,472.0 361.6,471.9 362.9,470.5 367.6,470.4 368.6,463.2 369.6,463.1 370.6,459.2 373.0,457.2"/>
<polyline stroke="#1f77b4" points="183.0,496.9 187.2,496.5 190.5,487.1 206.5,486.1 225.4,485.3 257.7,484.9 284.5,484.6 299.9,484.6 310.4,484.5 338.2,484.4 346.1,484.3 348.8,480.9 349.8,479.9 350.6,473.2 351.2,472.8 361.6,472.6 362.9,472.2 367.6,472.1 368.6,468.8 369.6,463.2 370.6,461.9 373.0,460.0"/>
<polyline stroke="#ff7f0e" points="183.0,496.9 187.2,496.5 190.5,487.4 206.5,486.4 225.4,485.7 257.7,485.3 284.5,485.0 299.9,484.9 310.4,484.9 338.2,484.8 346.1,484.7 348.8,479.8 349.8,478.9 350.6,474.0 351.2,473.5 361.6,473.4 362.9,473.4 367.6,473.3 368.6,468.6 369.6,465.8 370.6,461.6 371.5,459.8 373.0,459.6"/>
<polyline stroke="#2ca02c" points="183.0,496.9 187.2,496.5 190.5,487.7 206.5,486.8 225.4,486.0 257.7,485.6 284.5,485.3 299.9,485.3 310.4,485.3 338.2,485.2 346.1,485.0 348.8,481.6 349.8,480.9 350.6,474.6 351.2,474.2 361.6,474.1 362.9,472.8 367.6,472.7 368.6,467.8 369.6,465.6 370.6,461.2 373.0,460.5"/>
<polyline stroke="#d62728" points="183.0,496.9 187.2,496.6 190.5,488.0 206.5,487.0 225.4,486.3 257.7,485.9 284.5,485.7 299.9,485.6 310.4,485.6 338.2,485.5 346.1,485.4 348.8,481.9 349.8,481.1 350.9,475.3 351.2,474.8 361.6,474.7 362.9,474.7 367.6,474.6 368.6,468.5 369.6,466.9 370.6,463.7 373.0,463.6"/>
<polyline stroke="#9467bd" points="183.0,496.9 187.2,496.6 190.5,488.2 206.5,487.3 225.4,486.6 257.7,486.2 284.5,486.0 299.9,485.9 310.4,485.9 338.2,485.8 346.1,485.7 348.8,482.4 349.8,481.3 350.8,475.9 351.2,475.4 361.6,475.3 362.9,475.3 367.6,475.2 368.6,471.7 369.6,468.7 370.6,464.9 371.5,464.4 373.0,463.8"/>
<polyline stroke="#8c564b" points="183.0,496.9 187.2,496.6 190.5,488.4 206.5,487.6 225.4,486.9 257.7,486.5 284.5,486.3 299.9,486.2 310.4,486.2 338.2,486.1 346.1,486.0 348.8,483.3 349.8,482.6 350.8,476.4 351.2,476.0 361.6,475.9 362.9,474.6 367.6,474.5 368.6,471.8 369.6,468.2 370.6,465.8 373.0,465.3"/>
<polyline stroke="#e377c2" points="183.0,496.9 187.2,496.6 190.5,488.7 206.5,487.8 225.4,487.1 257.7,486.8 284.5,486.5 299.9,486.5 310.4,486.5 338.2,486.4 346.1,486.3 348.8,483.6 349.8,482.6 350.8,476.9 351.2,476.6 361.6,476.4 362.9,475.0 367.6,475.0 368.6,470.0 369.6,469.7 370.6,466.0 371.5,465.9 373.0,465.9"/>
<polyline stroke="#7f7f7f" points="183.0,496.9 187.2,496.6 190.5,488.9 206.5,488.0 225.4,487.4 257.7,487.0 284.5,486.8 299.9,486.8 310.4,486.7 338.2,486.7 346.1,486.5 348.8,485.9 351.1,479.7 353.2,477.2 355.2,477.1 361.6,477.0 362.9,475.5 367.6,475.4 368.6,471.1 369.6,469.5 370.6,467.4 373.0,465.8"/>
<polyline stroke="#bcbd22" points="183.0,496.9 187.2,496.6 190.5,489.1 206.5,488.3 225.4,487.6 257.7,487.3 284.5,487.1 299.9,487.0 310.4,487.0 338.2,486.9 346.1,486.8 348.8,485.2 351.1,478.2 353.2,477.7 355.2,477.6 361.6,477.5 362.9,477.5 367.6,477.4 368.6,474.2 369.6,470.1 370.6,467.9 373.0,466.2"/>
<polyline stroke="#17becf" points="183.0,496.9 187.2,496.6 190.5,489.2 206.5,488.5 225.4,487.8 257.7,487.5 284.5,487.3 299.9,487.3 310.4,487.2 338.2,487.2 346.1,487.0 348.8,485.6 351.1,479.6 353.2,478.6 355.2,478.0 361.6,477.9 362.9,477.9 367.6,477.9 368.6,472.6 369.6,470.1 370.6,468.8 373.0,466.2"/>
<polyline stroke="#1f77b4" points="183.0,496.9 187.2,496.6 190.5,489.4 206.5,488.7 225.4,488.1 257.7,487.7 284.5,487.5 299.9,487.5 310.4,487.5 338.2,487.4 346.1,487.3 348.8,486.1 351.1,480.3 353.2,478.5 355.2,478.5 361.6,478.4 362.9,477.9 367.6,477.8 368.6,475.4 369.6,472.3 370.6,470.5 373.0,468.5"/>
<polyline stroke="#ff7f0e" points="183.0,496.9 187.2,496.6 190.5,489.6 206.5,488.9 225.4,488.3 257.7,488.0 284.5,487.7 299.9,487.7 310.4,487.7 338.2,487.6 346.1,487.5 348.8,486.3 351.1,479.8 353.2,479.2 355.2,478.9 361.6,478.8 362.9,478.8 367.6,478.7 368.6,474.8 369.6,470.9 370.6,468.8 372.3,468.6 373.0,468.6"/>
<polyline stroke="#2ca02c" points="183.0,496.9 187.2,496.6 190.5,489.8 206.5,489.0 225.4,488.4 257.7,488.2 284.5,487.9 299.9,487.9 310.4,487.9 338.2,487.8 346.1,487.7 348.8,485.9 351.1,480.2 353.2,479.4 355.2,479.3 361.6,479.2 362.9,478.4 367.6,478.3 368.6,475.6 369.6,472.2 370.6,471.2 371.5,470.7 373.0,470.7"/>
<polyline stroke="#d62728" points="183.0,496.9 187.2,496.6 190.5,489.9 206.5,489.2 225.4,488.6 257.7,488.4 284.5,488.1 299.9,488.1 310.4,488.1 338.2,488.0 346.1,487.9 348.8,487.3 351.1,485.5 353.2,480.1 355.2,479.7 361.6,479.6 362.9,478.5 367.6,478.4 368.6,475.2 369.6,472.9 370.6,470.8 371.5,470.7 373.0,470.2"/>
<polyline stroke="#9467bd" points="183.0,496.9 187.2,496.6 190.5,490.1 206.5,489.4 225.4,488.8 257.7,488.5 284.5,488.3 299.9,488.3 310.4,488.3 338.2,488.2 346.1,488.1 348.8,482.3 351.1,481.4 353.2,480.2 355.2,480.1 361.6,480.0 362.9,479.4 367.6,479.4 368.6,476.0 369.6,474.1 370.6,471.2 373.0,470.1"/>
<polyline stroke="#8c564b" points="183.0,496.9 187.2,496.6 190.5,490.2 206.5,489.5 225.4,489.0 257.7,488.7 284.5,488.5 299.9,488.5 310.4,488.4 338.2,488.4 346.1,488.3 348.8,487.4 351.1,482.1 353.2,480.9 355.2,480.4 361.6,480.3 362.9,480.3 367.6,480.3 368.6,475.3 369.6,474.8 370.6,472.8 371.5,471.3 373.0,471.3"/>
<polyline stroke="#e377c2" points="183.0,496.9 187.2,496.6 190.5,490.4 206.5,489.7 225.4,489.1 257.7,488.9 284.5,488.7 299.9,488.6 310.4,488.6 338.2,488.6 346.1,488.5 348.8,487.2 351.1,486.5 353.2,481.0 355.2,480.8 361.6,480.7 362.9,480.7 367.6,480.6 368.6,476.8 369.6,475.3 370.6,472.4 371.5,472.1 373.0,472.1"/>
<polyline stroke="#7f7f7f" points="183.0,496.9 187.2,496.7 190.5,490.5 206.5,489.8 225.4,489.3 257.7,489.0 284.5,488.9 299.9,488.8 310.4,488.8 338.2,488.7 346.1,488.6 348.8,487.6 351.1,482.4 353.2,481.1 355.2,481.1 361.6,481.0 362.9,480.7 367.6,480.7 368.6,477.1 369.6,476.5 370.6,474.9 373.0,473.5"/>
<polyline stroke="#bcbd22" points="183.0,496.9 187.2,496.7 190.5,490.6 206.5,490.0 225.4,489.5 257.7,489.2 284.5,489.0 299.9,489.0 310.4,489.0 338.2,488.9 346.1,488.8 348.8,483.4 351.1,482.2 353.2,481.4 355.2,481.4 361.6,481.3 362.9,481.3 367.6,481.3 368.6,478.8 369.6,475.9 370.6,474.4 372.3,474.1 373.0,474.1"/>
<polyline stroke="#17becf" points="183.0,496.9 187.2,496.7 190.5,490.7 206.5,490.1 225.4,489.6 257.7,489.3 284.5,489.2 299.9,489.1 310.4,489.1 338.2,489.1 346.1,489.0 348.8,483.9 351.1,483.2 353.2,481.9 355.2,481.7 361.6,481.6 362.9,481.6 367.6,481.6 368.6,478.6 369.6,475.7 370.6,474.1 373.0,473.9"/>
<polyline stroke="#1f77b4" points="183.0,496.9 187.2,496.7 190.5,490.9 206.5,490.2 225.4,489.7 257.7,489.5 284.5,489.3 299.9,489.3 310.4,489.3 338.2,489.2 346.1,489.1 348.8,488.2 351.1,487.3 353.2,482.4 355.2,482.0 361.6,481.9 362.9,481.9 367.6,481.9 368.6,478.8 369.6,477.4 370.6,475.6 371.5,475.3 373.0,475.3"/>
<polyline stroke="#ff7f0e" points="183.0,496.9 187.2,496.7 190.5,491.0 206.5,490.4 225.4,489.9 257.7,489.6 284.5,489.5 299.9,489.4 310.4,489.4 338.2,489.3 346.1,489.3 348.8,488.8 351.1,483.6 353.2,482.5 355.2,482.3 361.6,482.2 362.9,482.2 367.6,482.1 368.6,479.7 369.6,476.2 370.6,474.8 371.5,474.8 373.0,474.8"/>
<polyline stroke="#2ca02c" points="183.0,496.9 187.2,496.7 190.5,491.1 206.5,490.5 225.4,490.0 257.7,489.8 284.5,489.6 299.9,489.6 310.4,489.5 338.2,489.5 346.1,489.4 348.8,488.9 351.1,483.7 353.2,482.7 355.2,482.5 361.6,482.5 362.9,482.5 367.6,482.4 368.6,479.9 369.6,478.0 370.6,476.4 371.5,476.1 373.0,475.9"/>
<polyline stroke="#d62728" points="183.0,496.9 187.2,496.7 190.5,491.2 206.5,490.6 225.4,490.1 257.7,489.9 284.5,489.7 299.9,489.7 310.4,489.7 338.2,489.6 346.1,489.5 348.8,488.6 351.1,488.3 353.2,483.1 355.2,482.8 361.6,482.7 362.9,482.7 367.6,482.7 368.6,479.7 369.6,476.6 370.6,475.5 372.3,475.4 373.0,474.7"/>
<polyline stroke="#9467bd" points="183.0,496.9 187.2,496.7 190.5,491.3 206.5,490.7 225.4,490.2 257.7,490.0 284.5,489.9 299.9,489.8 310.4,489.8 338.2,489.7 346.1,489.7 348.8,488.8 351.1,487.4 353.2,483.1 355.2,483.1 361.6,483.0 362.9,483.0 367.6,482.9 368.6,480.6 369.6,478.0 370.6,476.8 372.3,476.4 373.0,476.4"/>
<polyline stroke="#8c564b" points="187.2,496.7 190.5,491.4 206.5,490.8 225.4,490.4 257.7,490.1 284.5,490.0 299.9,489.9 310.4,489.9 338.2,489.9 346.1,489.8 348.8,489.4 351.1,488.5 353.2,483.6 355.2,483.3 361.6,483.2 362.9,483.2 367.6,483.2 368.6,480.8 369.6,479.5 370.6,477.3 371.5,476.7 373.0,476.7"/>
<polyline stroke="#e377c2" points="187.2,496.7 190.5,491.5 206.5,490.9 225.4,490.5 257.7,490.3 284.5,490.1 299.9,490.1 310.4,490.0 338.2,490.0 346.1,489.9 348.8,485.2 351.1,484.5 353.2,483.5 355.2,483.5 361.6,483.4 362.9,483.4 367.6,483.4 368.6,480.5 369.6,479.0 370.6,476.9 372.3,476.6 373.0,476.6"/>
<polyline stroke="#7f7f7f" points="187.2,496.7 190.5,491.6 206.5,491.0 225.4,490.6 257.7,490.4 284.5,490.2 299.9,490.2 310.4,490.2 338.2,490.1 346.1,490.0 348.8,485.9 351.1,484.7 353.2,484.1 355.2,483.8 361.6,483.7 362.9,483.7 367.6,483.6 368.6,481.1 369.6,479.8 370.6,477.9 371.5,477.2 373.0,477.2"/>
<polyline stroke="#bcbd22" points="187.2,496.7 190.5,491.7 206.5,491.1 225.4,490.7 257.7,490.5 284.5,490.3 299.9,490.3 310.4,490.3 338.2,490.2 346.1,490.1 348.8,489.0 351.1,488.3 353.2,484.0 355.2,484.0 361.6,483.9 362.9,483.9 367.6,483.8 368.6,480.6 369.6,480.4 370.6,478.1 373.0,477.8"/>
<polyline stroke="#17becf" points="187.2,496.7 190.5,491.7 206.5,491.2 225.4,490.8 257.7,490.6 284.5,490.4 299.9,490.4 310.4,490.4 338.2,490.3 346.1,490.3 348.8,486.3 351.1,485.6 353.2,484.3 355.2,484.2 361.6,484.1 362.9,484.1 367.6,484.1 368.6,481.7 369.6,480.0 370.6,478.5 372.3,478.3 373.0,478.3"/>
<polyline stroke="#1f77b4" points="187.2,496.7 190.5,491.8 206.5,491.3 225.4,490.9 257.7,490.7 284.5,490.5 299.9,490.5 310.4,490.5 338.2,490.4 346.1,490.4 348.8,485.9 351.1,485.2 353.2,484.5 355.2,484.4 361.6,484.3 362.9,484.3 367.6,484.3 368.6,482.5 369.6,481.0 370.6,479.0 373.0,478.6"/>
<polyline stroke="#ff7f0e" points="187.2,496.7 190.5,491.9 206.5,491.4 225.4,491.0 257.7,490.8 284.5,490.6 299.9,490.6 310.4,490.6 338.2,490.5 346.1,490.5 348.8,489.7 351.1,488.7 353.2,484.8 355.2,484.6 361.6,484.5 362.9,484.5 367.6,484.5 368.6,481.3 369.6,480.8 370.6,479.5 373.0,478.7"/>
<polyline stroke="#2ca02c" points="187.2,496.7 190.5,492.0 206.5,491.5 225.4,491.1 257.7,490.9 284.5,490.7 299.9,490.7 310.4,490.7 338.2,490.6 346.1,490.6 348.8,489.4 351.1,489.0 353.2,485.0 355.2,484.8 361.6,484.7 362.9,484.7 367.6,484.7 368.6,483.2 369.6,480.7 370.6,480.2 373.0,479.6"/>
<polyline stroke="#d62728" points="187.2,496.7 190.5,492.1 206.5,491.6 225.4,491.2 257.7,491.0 284.5,490.8 299.9,490.8 310.4,490.8 338.2,490.7 346.1,490.7 348.8,489.6 351.1,485.9 353.2,485.1 355.2,485.0 361.6,484.9 362.9,484.9 367.6,484.8 368.6,482.8 369.6,480.7 370.6,479.7 371.5,479.3 373.0,479.3"/>
<polyline stroke="#9467bd" points="187.2,496.7 190.5,492.1 206.5,491.6 225.4,491.3 257.7,491.1 284.5,490.9 299.9,490.9 310.4,490.9 338.2,490.8 346.1,490.8 348.8,489.9 351.1,489.2 353.2,485.2 355.2,485.1 361.6,485.1 362.9,485.1 367.6,485.0 368.6,482.9 369.6,481.4 370.6,480.8 373.0,479.9"/>
<polyline stroke="#8c564b" points="187.2,496.7 190.5,492.2 206.5,491.7 225.4,491.3 257.7,491.1 284.5,491.0 299.9,491.0 310.4,491.0 338.2,490.9 346.1,490.8 348.8,487.1 351.1,486.5 353.2,485.5 355.2,485.3 361.6,485.2 362.9,485.2 367.6,485.2 368.6,483.0 369.6,482.7 370.6,481.5 371.5,480.6 373.0,480.6"/>
<polyline stroke="#e377c2" points="187.2,496.7 190.5,492.3 206.5,491.8 225.4,491.4 257.7,491.2 284.5,491.1 299.9,491.1 310.4,491.0 338.2,491.0 346.1,490.9 348.8,490.2 351.1,486.0 353.2,485.7 355.2,485.5 361.6,485.4 362.9,485.4 367.6,485.4 368.6,483.7 369.6,481.9 370.6,480.5 371.5,480.2 373.0,479.7"/>
<polyline stroke="#7f7f7f" points="187.2,496.7 190.5,492.3 206.5,491.9 225.4,491.5 257.7,491.3 284.5,491.2 299.9,491.1 310.4,491.1 338.2,491.1 346.1,491.0 348.8,486.8 351.1,486.2 353.2,485.9 355.2,485.7 361.6,485.6 362.9,485.6 367.6,485.5 368.6,482.8 369.6,481.4 370.6,480.9 373.0,480.4"/>
<polyline stroke="#bcbd22" points="187.2,496.7 190.5,492.4 206.5,491.9 225.4,491.6 257.7,491.4 284.5,491.3 299.9,491.2 310.4,491.2 338.2,491.2 346.1,491.1 348.8,490.3 351.1,490.0 353.2,486.0 355.2,485.8 361.6,485.7 362.9,485.7 367.6,485.7 368.6,483.2 369.6,482.5 370.6,480.9 372.3,480.8 373.0,480.8"/>
<polyline stroke="#17becf" points="187.2,496.7 190.5,492.5 206.5,492.0 225.4,491.6 257.7,491.5 284.5,491.3 299.9,491.3 310.4,491.3 338.2,491.3 346.1,491.2 348.8,490.4 351.1,489.9 353.2,486.0 355.2,486.0 361.6,485.9 362.9,485.9 367.6,485.9 368.6,484.1 369.6,483.6 370.6,482.1 372.3,481.5 373.0,481.5"/>
<polyline stroke="#1f77b4" points="187.2,496.7 190.5,492.5 206.5,492.1 225.4,491.7 257.7,491.5 284.5,491.4 299.9,491.4 310.4,491.4 338.2,491.3 346.1,491.3 348.8,490.2 351.1,486.6 353.2,486.2 355.2,486.1 361.6,486.1 362.9,486.1 367.6,486.0 368.6,484.8 369.6,483.2 370.6,482.3 373.0,481.9"/>
<polyline stroke="#ff7f0e" points="187.2,496.7 190.5,492.6 206.5,492.1 225.4,491.8 257.7,491.6 284.5,491.5 299.9,491.5 310.4,491.4 338.2,491.4 346.1,491.3 348.8,490.4 351.1,490.2 353.2,486.5 355.2,486.3 361.6,486.2 362.9,486.2 367.6,486.2 368.6,484.6 369.6,483.9 370.6,482.7 371.5,482.1 373.0,482.1"/>
<polyline stroke="#2ca02c" points="187.2,496.7 190.5,492.6 206.5,492.2 225.4,491.9 257.7,491.7 284.5,491.6 299.9,491.5 310.4,491.5 338.2,491.5 346.1,491.4 348.8,490.9 351.1,487.3 353.2,486.5 355.2,486.4 361.6,486.3 362.9,486.3 367.6,486.3 368.6,484.1 369.6,484.0 370.6,482.6 373.0,482.1"/>
<polyline stroke="#d62728" points="187.2,496.7 190.5,492.7 206.5,492.3 225.4,491.9 257.7,491.8 284.5,491.6 299.9,491.6 310.4,491.6 338.2,491.6 346.1,491.5 348.8,490.7 351.1,490.3 353.2,486.6 355.2,486.5 361.6,486.5 362.9,486.5 367.6,486.4 368.6,484.1 369.6,483.3 370.6,482.3 371.5,481.9 373.0,481.6"/>
<polyline stroke="#9467bd" points="187.2,496.7 190.5,492.8 206.5,492.3 225.4,492.0 257.7,491.8 284.5,491.7 299.9,491.7 310.4,491.7 338.2,491.6 346.1,491.6 348.8,490.8 351.1,487.3 353.2,486.9 355.2,486.7 361.6,486.6 362.9,486.6 367.6,486.6 368.6,485.2 369.6,483.6 370.6,483.1 373.0,482.1"/>
<polyline stroke="#8c564b" points="187.2,496.7 190.5,492.8 206.5,492.4 225.4,492.1 257.7,491.9 284.5,491.8 299.9,491.7 310.4,491.7 338.2,491.7 346.1,491.6 348.8,491.0 351.1,487.2 353.2,486.9 355.2,486.8 361.6,486.8 362.9,486.8 367.6,486.7 368.6,485.0 369.6,483.9 370.6,483.4 373.0,482.9"/>
<polyline stroke="#e377c2" points="187.2,496.7 190.5,492.9 206.5,492.5 225.4,492.1 257.7,492.0 284.5,491.8 299.9,491.8 310.4,491.8 338.2,491.8 346.1,491.7 348.8,490.8 351.1,487.7 353.2,487.2 355.2,486.9 361.6,486.9 362.9,486.9 367.6,486.8 368.6,485.2 369.6,483.5 370.6,483.0 372.3,482.8 373.0,482.8"/>
<polyline stroke="#7f7f7f" points="187.2,496.7 190.5,492.9 206.5,492.5 225.4,492.2 257.7,492.0 284.5,491.9 299.9,491.9 310.4,491.9 338.2,491.8 346.1,491.8 348.8,488.4 351.1,488.1 353.2,487.2 355.2,487.1 361.6,487.0 362.9,487.0 367.6,487.0 368.6,485.7 369.6,485.0 370.6,483.9 372.3,483.5 373.0,483.5"/>
<polyline stroke="#bcbd22" points="187.2,496.7 190.5,493.0 206.5,492.6 225.4,492.2 257.7,492.1 284.5,492.0 299.9,491.9 310.4,491.9 338.2,491.9 346.1,491.8 348.8,491.4 351.1,487.9 353.2,487.4 355.2,487.2 361.6,487.1 362.9,487.1 367.6,487.1 368.6,485.2 369.6,484.7 370.6,483.8 371.5,483.1 373.0,482.7"/>
<polyline stroke="#17becf" points="187.2,496.8 190.5,493.0 206.5,492.6 225.4,492.3 257.7,492.1 284.5,492.0 299.9,492.0 310.4,492.0 338.2,491.9 346.1,491.9 348.8,491.5 351.1,488.1 353.2,487.5 355.2,487.3 361.6,487.3 362.9,487.3 367.6,487.2 368.6,485.4 369.6,485.1 370.6,484.1 373.0,483.5"/>
<polyline stroke="#1f77b4" points="187.2,496.8 190.5,493.1 206.5,492.7 225.4,492.3 257.7,492.2 284.5,492.1 299.9,492.1 310.4,492.0 338.2,492.0 346.1,491.9 348.8,488.8 351.1,488.2 353.2,487.5 355.2,487.4 361.6,487.4 362.9,487.4 367.6,487.3 368.6,486.3 369.6,485.4 370.6,484.0 372.3,483.8 373.0,483.8"/>
<polyline stroke="#ff7f0e" points="187.2,496.8 190.5,493.1 206.5,492.7 225.4,492.4 257.7,492.2 284.5,492.1 299.9,492.1 310.4,492.1 338.2,492.1 346.1,492.0 348.8,491.4 351.1,490.9 353.2,487.7 355.2,487.5 361.6,487.5 362.9,487.5 367.6,487.4 368.6,485.8 369.6,485.0 370.6,484.6 372.3,484.3 373.0,483.8"/>
<polyline stroke="#2ca02c" points="187.2,496.8 190.5,493.1 206.5,492.8 225.4,492.5 257.7,492.3 284.5,492.2 299.9,492.2 310.4,492.2 338.2,492.1 346.1,492.1 348.8,491.2 351.1,488.0 353.2,487.7 355.2,487.7 361.6,487.6 362.9,487.6 367.6,487.6 368.6,486.0 369.6,485.4 370.6,484.2 373.0,484.0"/>
<polyline stroke="#d62728" points="187.2,496.8 190.5,493.2 206.5,492.8 225.4,492.5 257.7,492.4 284.5,492.2 299.9,492.2 310.4,492.2 338.2,492.2 346.1,492.1 348.8,491.8 351.1,488.1 353.2,487.8 355.2,487.8 361.6,487.7 362.9,487.7 367.6,487.7 368.6,486.3 369.6,485.2 370.6,484.8 373.0,484.4"/>
<polyline stroke="#9467bd" points="44.0,496.9 170.7,496.9 183.0,496.9 187.2,496.8 190.5,493.2 206.5,492.9 225.4,492.6 257.7,492.4 284.5,492.3 299.9,492.3 310.4,492.3 338.2,492.2 346.1,492.2 348.8,488.8 351.1,488.5 353.2,488.1 355.2,487.9 361.6,487.8 362.9,487.8 367.6,487.8 368.6,486.6 369.6,485.9 370.6,484.9 371.5,484.5 373.0,484.5"/>
</g></g></g>
<g transform="rotate(-0.33 208.55 397.5)">
<text class="l" x="152.4" y="335.9" text-anchor="middle">0.87 nm</text>
<text class="l" x="228.4" y="329.1" text-anchor="middle">1.24 nm</text>
<text class="l" x="245.5" y="415.2" text-anchor="middle">1.61 nm</text>
<text class="l" x="265.2" y="429.5" text-anchor="middle">1.98 nm</text>
<text class="l" x="299.8" y="439.6" text-anchor="middle">2.35 nm</text>
</g>
<g transform="rotate(-0.33 208.55 397.5)">
<text class="t" x="42.0" y="500.3" text-anchor="end" style="font-size:9.3px">0.0</text>
<text class="t" x="42.0" y="473.8" text-anchor="end" style="font-size:9.3px">2.5</text>
<text class="t" x="42.0" y="447.2" text-anchor="end" style="font-size:9.3px">5.0</text>
<text class="t" x="42.0" y="420.7" text-anchor="end" style="font-size:9.3px">7.5</text>
<text class="t" x="42.0" y="394.2" text-anchor="end" style="font-size:9.3px">10.0</text>
<text class="t" x="42.0" y="367.7" text-anchor="end" style="font-size:9.3px">12.5</text>
<text class="t" x="42.0" y="341.2" text-anchor="end" style="font-size:9.3px">15.0</text>
<text class="t" x="42.0" y="314.6" text-anchor="end" style="font-size:9.3px">17.5</text>
<text class="t" x="44.5" y="513.9" text-anchor="middle" style="font-size:8.4px">10<tspan dy="-3.3" font-size="6.2px">−4</tspan></text>
<text class="t" x="95.7" y="513.9" text-anchor="middle" style="font-size:8.4px">10<tspan dy="-3.3" font-size="6.2px">−3</tspan></text>
<text class="t" x="146.9" y="513.9" text-anchor="middle" style="font-size:8.4px">10<tspan dy="-3.3" font-size="6.2px">−2</tspan></text>
<text class="t" x="198.1" y="513.9" text-anchor="middle" style="font-size:8.4px">10<tspan dy="-3.3" font-size="6.2px">−1</tspan></text>
<text class="t" x="249.3" y="513.9" text-anchor="middle" style="font-size:8.4px">10<tspan dy="-3.3" font-size="6.2px">0</tspan></text>
<text class="t" x="300.5" y="513.9" text-anchor="middle" style="font-size:8.4px">10<tspan dy="-3.3" font-size="6.2px">1</tspan></text>
<text class="t" x="351.7" y="513.9" text-anchor="middle" style="font-size:8.4px">10<tspan dy="-3.3" font-size="6.2px">2</tspan></text>
<text class="t" x="208.9" y="523.3" text-anchor="middle" style="font-size:9.6px;letter-spacing:0.3px">pressure /Pa</text>
<text class="t" transform="translate(22.3,398.5) rotate(-90)" text-anchor="middle" style="font-size:10.1px">n. particles adsorbed /nm<tspan dy="-3.2" font-size="6.6px">−3</tspan></text>
</g>
<text class="c" x="238.2" y="544.4" text-anchor="middle">(<tspan font-weight="bold">b</tspan>)</text>
</svg></body></html>
